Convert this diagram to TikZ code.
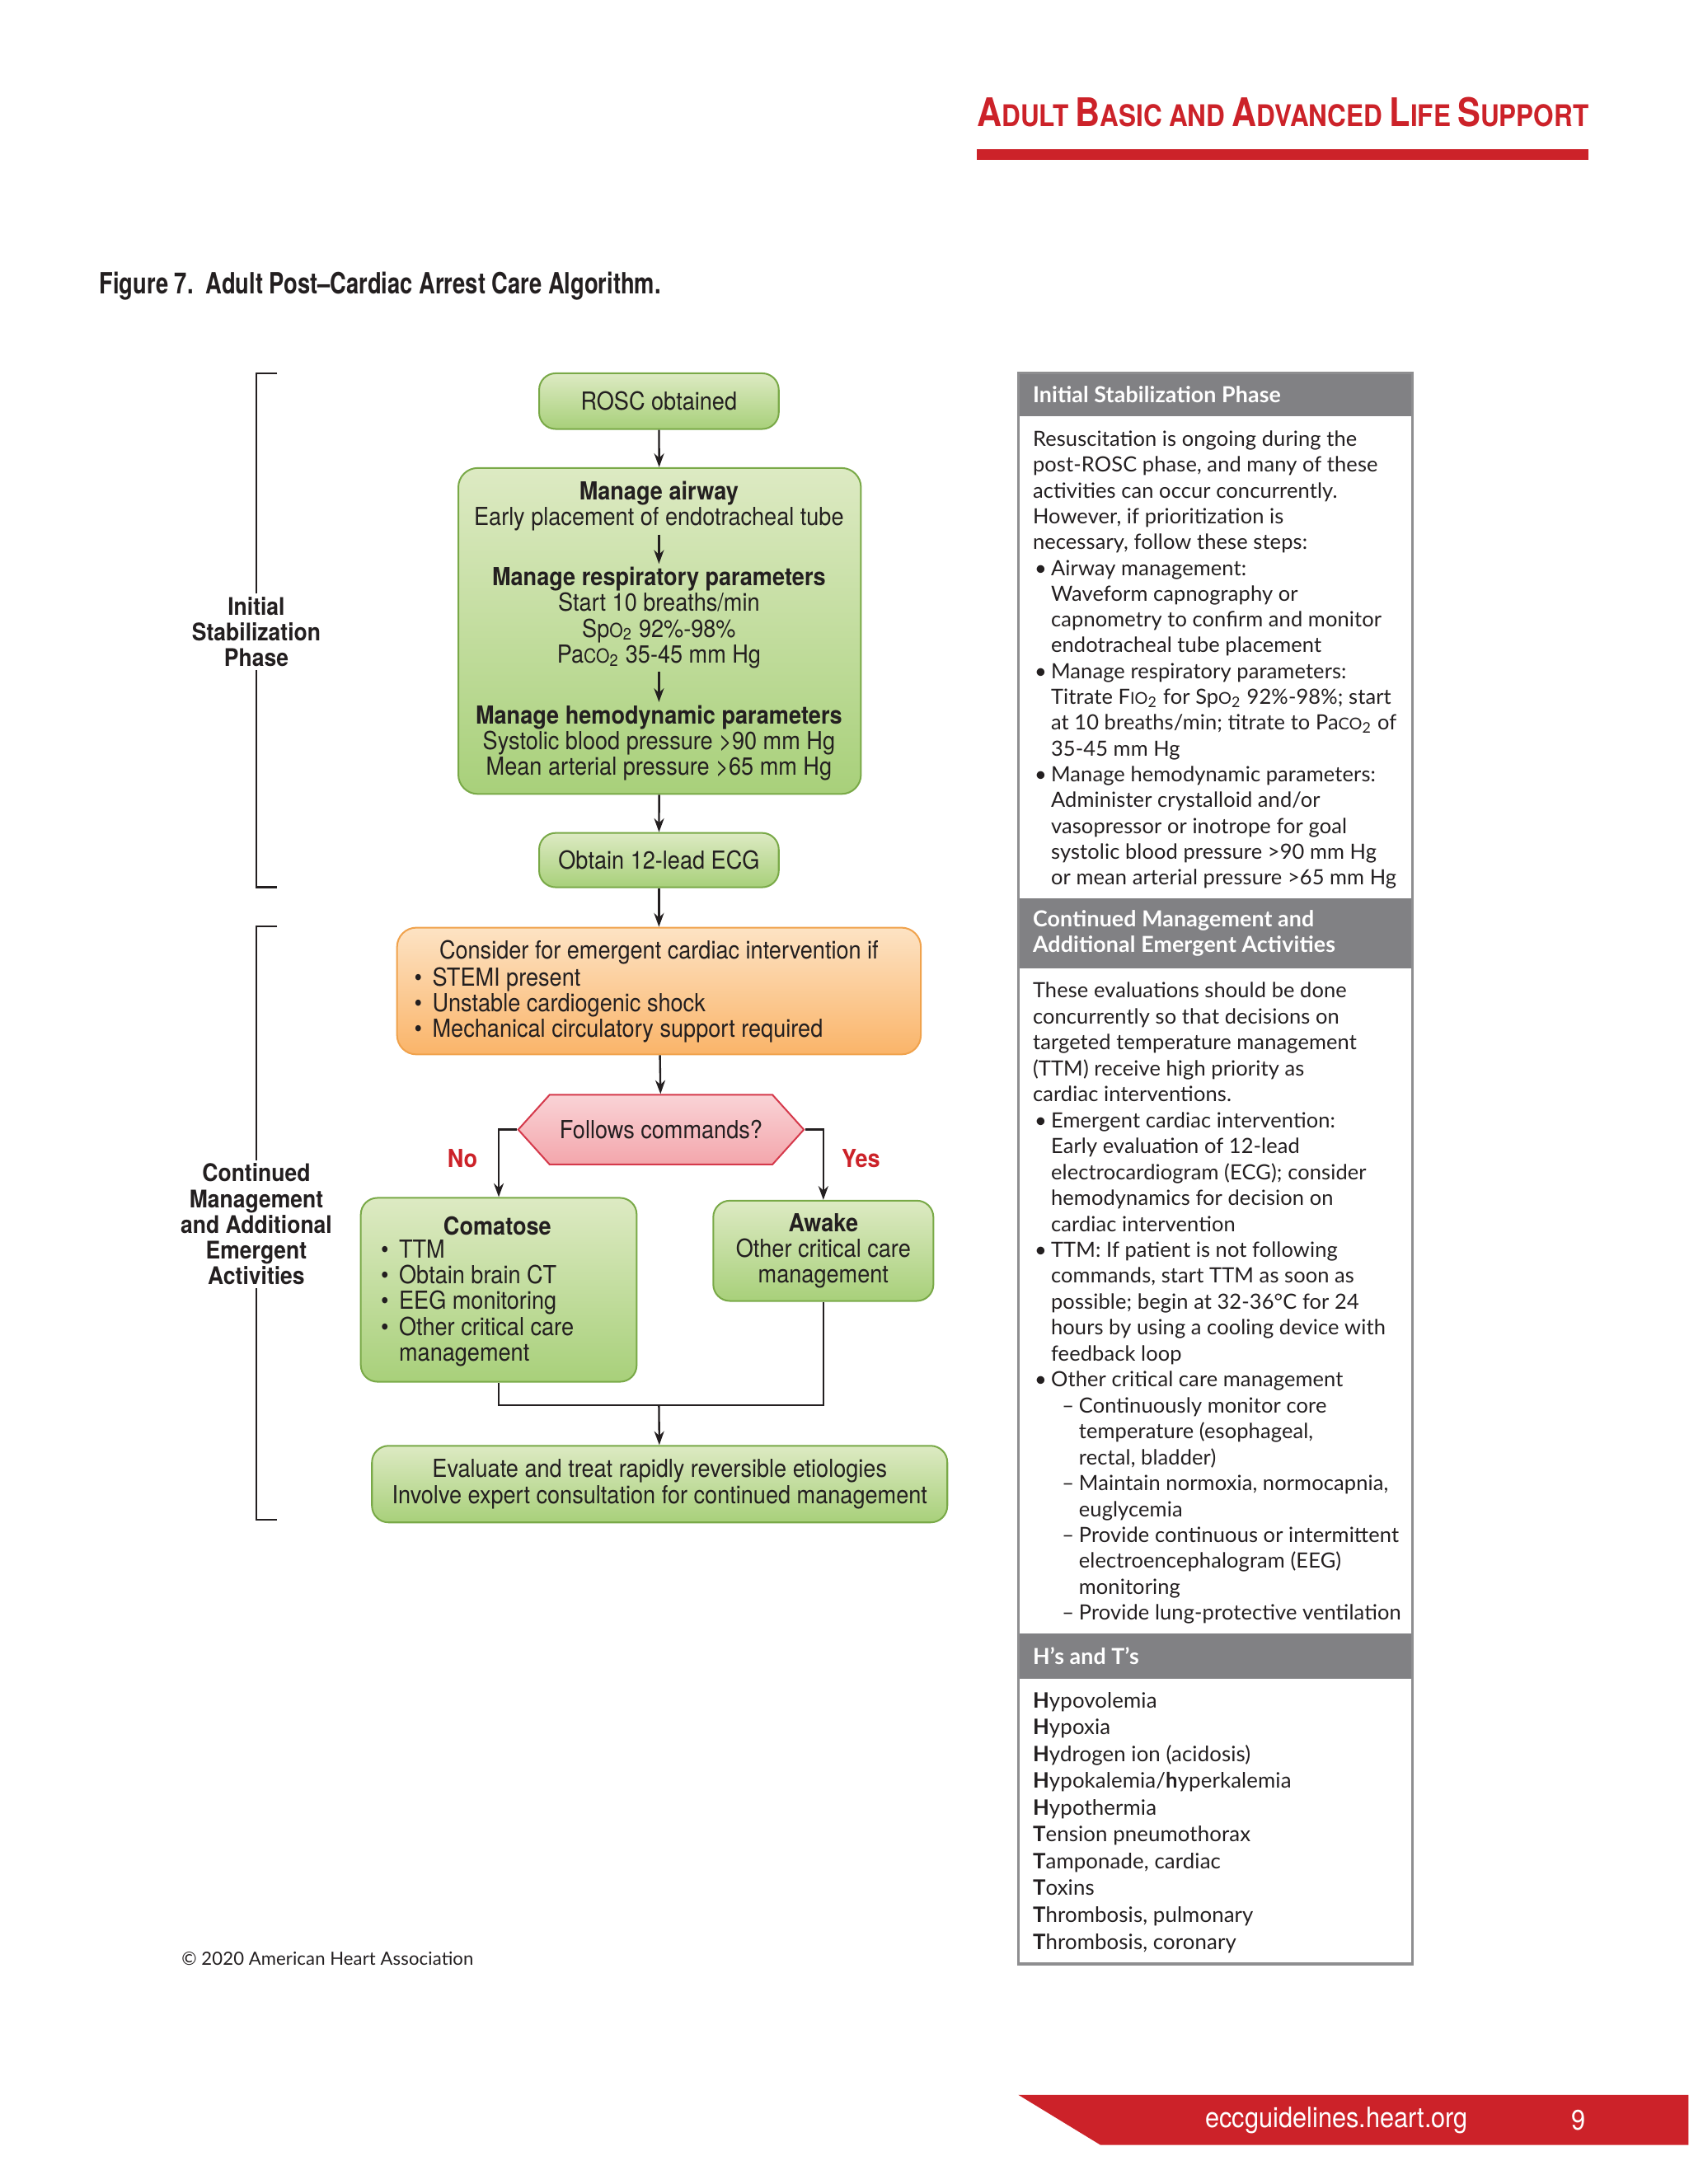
\documentclass[tikz,border=0pt]{standalone}
\usepackage{fontspec}
\usepackage{graphicx}
\usetikzlibrary{arrows.meta,shapes.symbols,positioning}
\setmainfont{TeX Gyre Heros}
\newfontfamily\flowfont{TeX Gyre Heros}[FakeStretch=0.9]
\newfontfamily\condfont{TeX Gyre Heros}[FakeStretch=0.72]
\newfontfamily\panelfont{Lato}[LetterSpace=0.5]

\definecolor{ahared}{HTML}{CC2229}
\definecolor{ink}{HTML}{231F20}
\definecolor{gtop}{HTML}{DDEAC3}
\definecolor{gbot}{HTML}{A8D07A}
\definecolor{gline}{HTML}{79A947}
\definecolor{otop}{HTML}{FDE3C4}
\definecolor{obot}{HTML}{FAB469}
\definecolor{oline}{HTML}{F0A24C}
\definecolor{ptop}{HTML}{FAD3D6}
\definecolor{pbot}{HTML}{F3A6AC}
\definecolor{pline}{HTML}{D5394B}
\definecolor{bargray}{HTML}{818184}
\definecolor{edgegray}{HTML}{8E8E90}

\newcommand{\dU}{0.505pt}
\newcommand{\gas}[2]{#1\scalebox{0.78}{#2}\textsubscript{2}}
\newcommand{\fbul}{\makebox[6.6pt][l]{\textbullet}}
\newcommand{\find}{\hspace*{6.6pt}}
\newcommand{\pbul}{\makebox[6.6pt][l]{\hspace{0.6pt}\textbullet}}
\newcommand{\pind}{\hspace*{6.6pt}}
\newcommand{\pdash}{\hspace*{10.6pt}\makebox[6.1pt][l]{–}}
\newcommand{\pindd}{\hspace*{16.7pt}}
\newcommand{\hcap}[2]{{\fontsize{14}{14}\selectfont #1}{\fontsize{10.6}{10.6}\selectfont #2}}

\tikzset{
  txt/.style={font=\flowfont\fontsize{9}{9.35}\selectfont, align=center, inner sep=1pt, text=ink},
  gbox/.style={txt, draw=gline, line width=0.6pt, rounded corners=6pt, top color=gtop, bottom color=gbot},
  obox/.style={txt, draw=oline, line width=0.6pt, rounded corners=7pt, top color=otop, bottom color=obot},
  qbox/.style={txt, signal, signal to=east and west, signal pointer angle=96, draw=pline, line width=0.6pt, top color=ptop, bottom color=pbot},
  arr/.style={draw=ink, line width=0.7pt, -{Stealth[length=5pt,width=3.6pt]}},
  link/.style={draw=ink, line width=0.7pt},
  brace/.style={draw=ink, line width=0.8pt},
  phase/.style={font=\flowfont\bfseries\fontsize{8.8}{9.35}\selectfont, align=center, inner sep=1pt, text=ink},
  answer/.style={font=\flowfont\bfseries\fontsize{9}{9}\selectfont, text=ahared, inner sep=0pt},
  bartxt/.style={font=\panelfont\bfseries\fontsize{8}{9.2}\selectfont, text=white, align=left, inner sep=0pt, anchor=west},
  paneltxt/.style={font=\panelfont\fontsize{7.6}{9.35}\selectfont, text=ink, align=left, inner sep=0pt, anchor=north west}
}

\begin{document}
\begin{tikzpicture}[x=0.505pt, y=-0.505pt]
\useasboundingbox[fill=white] (0,0) rectangle (1212,1568);

% page header
\node[anchor=base west, inner sep=0pt, text=ahared] (runhead) at (701,91)
  {\resizebox{221.7pt}{10.6pt}{\condfont\bfseries \hcap{A}{DULT} \hcap{B}{ASIC} \hcap{}{AND} \hcap{A}{DVANCED} \hcap{L}{IFE} \hcap{S}{UPPORT}}};
\fill[ahared] (701,107) rectangle (1140,115);

\node[anchor=base west, inner sep=0pt, text=ink] (caption) at (71,211)
  {\resizebox{203.5pt}{7.9pt}{\condfont\bfseries Figure 7.\ \ Adult Post–Cardiac Arrest Care Algorithm.}};

% phase brackets
\node[phase] (lab1) at (184,453.5) {Initial\\Stabilization\\Phase};
\draw[brace] (199,268) -- (184,268) -- (lab1.north);
\draw[brace] (lab1.south) -- (184,637) -- (199,637);

\node[phase] (lab2) at (184,879) {Continued\\Management\\and Additional\\Emergent\\Activities};
\draw[brace] (199,665) -- (184,665) -- (lab2.north);
\draw[brace] (lab2.south) -- (184,1091) -- (199,1091);

% flowchart
\node[gbox, minimum width=172*\dU, minimum height=40*\dU] (rosc) at (473,288) {ROSC obtained};

\node[gbox, rounded corners=7pt, minimum width=289*\dU, minimum height=234*\dU] (manage) at (473.5,453) {};
\node[txt] (airway) at (473,363.5) {\textbf{Manage airway}\\Early placement of endotracheal tube};
\node[txt] (resp) at (473,443.5) {\textbf{Manage respiratory parameters}\\Start 10 breaths/min\\\gas{Sp}{O} 92\%-98\%\\\gas{Pa}{CO} 35-45 mm Hg};
\node[txt] (hemo) at (473,533.5) {\textbf{Manage hemodynamic parameters}\\Systolic blood pressure >90 mm Hg\\Mean arterial pressure >65 mm Hg};

\node[gbox, minimum width=172*\dU, minimum height=39*\dU] (ecg) at (473,617.5) {Obtain 12-lead ECG};

\node[obox, minimum width=376*\dU, minimum height=91*\dU] (cath) at (473,711.5) {};
\node[txt] (cathhead) at (473,684) {Consider for emergent cardiac intervention if};
\node[txt, align=left, anchor=west] (cathlist) at (295,721.5)
  {\fbul STEMI present\\\fbul Unstable cardiogenic shock\\\fbul Mechanical circulatory support required};

\node[qbox, minimum width=205*\dU, minimum height=50*\dU] (follow) at (474.5,811) {Follows commands?};
\node[answer] (no) at (332,832) {No};
\node[answer] (yes) at (618,832) {Yes};

\node[gbox, minimum width=198*\dU, minimum height=132*\dU] (coma) at (358,926) {};
\node[txt] (comahead) at (357,880) {\textbf{Comatose}};
\node[txt, align=left, anchor=west] (comalist) at (271,935.5)
  {\fbul TTM\\\fbul Obtain brain CT\\\fbul EEG monitoring\\\fbul Other critical care\\\find management};

\node[gbox, minimum width=158*\dU, minimum height=72*\dU] (awake) at (591,898) {\textbf{Awake}\\Other critical care\\management};

\coordinate (merge) at (473,1009);
\node[gbox, minimum width=413*\dU, minimum height=55*\dU] (eval) at (473.5,1065.5)
  {Evaluate and treat rapidly reversible etiologies\\Involve expert consultation for continued management};

\draw[arr] (rosc) -- (manage);
\draw[arr] (airway) -- (resp);
\draw[arr] (resp) -- (hemo);
\draw[arr] (manage) -- (ecg);
\draw[arr] (ecg) -- (cath);
\draw[arr] (cath) -- (follow);
\draw[arr] (follow.west) -| (coma.north);
\draw[arr] (follow.east) -| (awake.north);
\draw[link] (coma.south) |- (merge) -| (awake.south);
\draw[arr] (merge) -- (eval);

% side panel
\fill[bargray] (731,268) rectangle (1014,299);
\fill[bargray] (731,645) rectangle (1014,695);
\fill[bargray] (731,1173) rectangle (1014,1205);
\draw[edgegray, line width=0.9pt] (731,268) rectangle (1014,1410);

\node[bartxt] (bar1) at (741,283.5) {Initial Stabilization Phase};
\node[bartxt] (bar2) at (741,670) {Continued Management and\\Additional Emergent Activities};
\node[bartxt] (bar3) at (741,1189) {H’s and T’s};

\node[paneltxt] (body1) at (741,309) {Resuscitation is ongoing during the\\
post-ROSC phase, and many of these\\
activities can occur concurrently.\\
However, if prioritization is\\
necessary, follow these steps:\\
\pbul Airway management:\\
\pind Waveform capnography or\\
\pind capnometry to confirm and monitor\\
\pind endotracheal tube placement\\
\pbul Manage respiratory parameters:\\
\pind Titrate \gas{F}{IO} for \gas{Sp}{O} 92\%-98\%; start\\
\pind at 10 breaths/min; titrate to \gas{Pa}{CO} of\\
\pind 35-45 mm Hg\\
\pbul Manage hemodynamic parameters:\\
\pind Administer crystalloid and/or\\
\pind vasopressor or inotrope for goal\\
\pind systolic blood pressure >90 mm Hg\\
\pind or mean arterial pressure >65 mm Hg};

\node[paneltxt, font=\panelfont\fontsize{7.6}{9.4}\selectfont] (body2) at (741,705) {These evaluations should be done\\
concurrently so that decisions on\\
targeted temperature management\\
(TTM) receive high priority as\\
cardiac interventions.\\
\pbul Emergent cardiac intervention:\\
\pind Early evaluation of 12-lead\\
\pind electrocardiogram (ECG); consider\\
\pind hemodynamics for decision on\\
\pind cardiac intervention\\
\pbul TTM: If patient is not following\\
\pind commands, start TTM as soon as\\
\pind possible; begin at 32-36°C for 24\\
\pind hours by using a cooling device with\\
\pind feedback loop\\
\pbul Other critical care management\\
\pdash Continuously monitor core\\
\pindd temperature (esophageal,\\
\pindd rectal, bladder)\\
\pdash Maintain normoxia, normocapnia,\\
\pindd euglycemia\\
\pdash Provide continuous or intermittent\\
\pindd electroencephalogram (EEG)\\
\pindd monitoring\\
\pdash Provide lung-protective ventilation};

\node[paneltxt, font=\panelfont\fontsize{7.7}{9.72}\selectfont] (body3) at (741,1214.5) {\textbf{H}ypovolemia\\
\textbf{H}ypoxia\\
\textbf{H}ydrogen ion (acidosis)\\
\textbf{H}ypokalemia/\textbf{h}yperkalemia\\
\textbf{H}ypothermia\\
\textbf{T}ension pneumothorax\\
\textbf{T}amponade, cardiac\\
\textbf{T}oxins\\
\textbf{T}hrombosis, pulmonary\\
\textbf{T}hrombosis, coronary};

\node[anchor=west, inner sep=0pt, text=ink, font=\panelfont\fontsize{6.6}{8}\selectfont] (copy) at (130,1406) {© 2020 American Heart Association};

% page footer
\fill[ahared] (731,1504) -- (1212,1504) -- (1212,1540) -- (790,1540) -- cycle;
\node[text=white, inner sep=0pt, font=\flowfont\fontsize{10.2}{10.5}\selectfont] (site) at (959.5,1522) {eccguidelines.heart.org};
\node[text=white, inner sep=0pt, font=\flowfont\fontsize{10.2}{10.5}\selectfont] (page) at (1133,1522) {9};
\end{tikzpicture}
\end{document}
